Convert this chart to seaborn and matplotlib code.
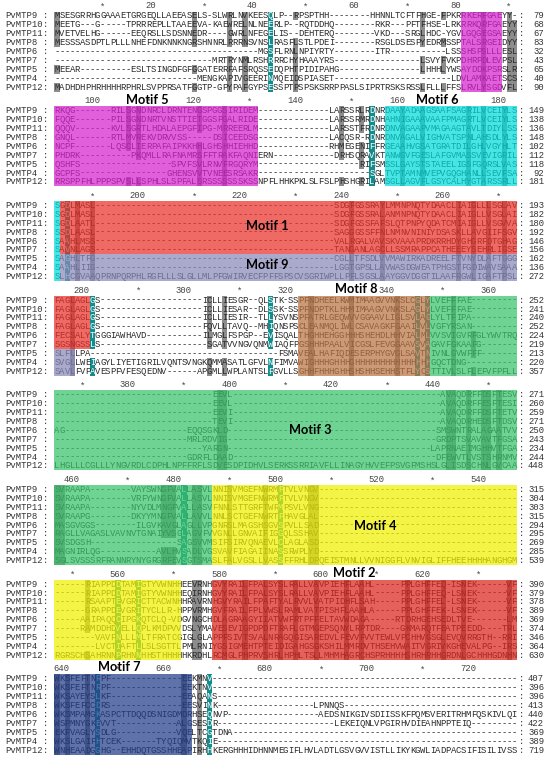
import numpy as np
import matplotlib
matplotlib.use("Agg")
import matplotlib.pyplot as plt
from matplotlib.colors import ListedColormap, to_rgb
from matplotlib.font_manager import FontProperties
import seaborn as sns

# ---- data ----
names = ["PvMTP9", "PvMTP10", "PvMTP11", "PvMTP8", "PvMTP6", "PvMTP7", "PvMTP5", "PvMTP4", "PvMTP12"]
block_start = [1, 92, 183, 274, 365, 456, 547, 638]

block1 = [
    "MSESGRRHGGAAAETGRGEQLLAEEASELS-SLWRLNVKEESQLP--RPSPTHH--------HHNNLTCFTFHGE-FPKRRKERFGAEYY",
    "MEETG---G-----TPRRREPLLTAAEEVA-KAEWRELNLNEERLP--RQTDDHQ--------RKR---PFTFHSE-LRKRRKQRFGAEYY",
    "MVETVELHG------EEQRSLLSDSNNEDR----GWRLNFEGELIS--DEHTERQ--------VKD---SRGLHDC-YGVLGQGEGSAEYY",
    "MESSSASDPTLPLLLNHEFDNKNNKNGRSHNNRLRRRNSVNSLRASFLSTLPDEI--------RSGLDSESPYEDRMSSPTALSRGEIDYY",
    "----------------------------------------MGSFLRNLNPIYRTY--------ITR-----------LSSSHSPSLLLESL",
    "-------------------------------MRTRYNMLRSHRRRCHYHAAAYRS-----------------LSVYFVKPDHRPDLEVPSL",
    "MEEAR----------ESLTSINGDFGFGGATERRFAFSRQSSEDQPHTPIDIPAHG----------------LHHHLYWSAYDDKPSRSLR",
    "----------------------------MENGKAPIVGEERINMQEIDSPIASET-----------------------LDVLAMKAETSCS",
    "MADHDHPHRHHHHRPHRLSVPPRSATFGGTP-GPYPAFGYPSESSPTPSPSKSRRPPASLSIPRTRSKSRSSLFLLLFFSLRVLYSGDVFL",
]
block2 = [
    "RKQG-------RILSGNDNRCLDRNTENGSPGGSIRIDEM--------------LARSSRLRDNRDAAYADAAGSAAFSAGRILVCEIYLS",
    "FQQE-------PILSGNDNRTVNSTTIETGGSPGALRIDE--------------LARSSRMRDNHAHNIGAAAVAAFPMAGRTLVCEIYLS",
    "QQQV-------KVLSGRTLHDALAEPGFIPG-MRREERLM--------------LARSSTFRDNRDNVAGAAPVMAGAAGTAVLTDIYLSS",
    "GNQL-------RTLMVREKVDRVVSS-----DSICEEDSG--------------LACQSR-RDNRDNVAGALVIGHVATSPNLAHSDLYLS",
    "NCPF-------LQSCLIERPAFAIPKKHHLGHSHHIEHHD--------------RHMEGENIFFRGEAAHVGSATGRATDILGHLVGYHLT",
    "PHDRK----------PKQMLLRAFNAMRSFFTRAKFAQNIERN------------DRHSQRAVKTANWGVFGESLAFGVMASSVEVIGRIL",
    "QSHFS------------------SPVFSVLRNVFRGQRYM--------------------RIFSMSSLGAYSTSTAEELIGSFGQRSLVAS",
    "GCPFS-----------------GHENSVVTVNEESRSAKR----------------------SGLTVPTAMNMVEPVGQGHANLLSEVFSA",
    "RRSPPFHLPPPSPVSLLSPHLSLSPFALSRSSSSSSSKSSNPFLHHKPKLSLFSLPHSHGRILAMSGLLAGVFLGSYCALHYGTARSSRLL",
]
block3 = [
    "SGDLMASL-----------------------------------------------SDGFGSSRAYLMMNPNQTYDAACLIAIGLLLSGLAV",
    "SGDLMASL-----------------------------------------------SDGFGSSRALANMNPNQTYDAACLIAIGLLVSGLAI",
    "SGDLAATL-----------------------------------------------SDGFGSSFAFSLQTPNPYQDATCMIAIGLLVSGVVA",
    "SSDLAASL-----------------------------------------------SAGGGSSFFNLNMNVNINIYDSASKLLAVGIIFSGV",
    "SAAHLMSS-----------------------------------------------VALRGALVAVSKVAAAPRDKRRHDYGHGRFDTGHAG",
    "SAVNLAGS-----------------------------------------------TANGANLAGCLLSSMRAPPCATHEEEYSEHRLIGSE",
    "SAGHLTFG-----------------------------------------------CGLLTFSDLVVMAWIRKADREELFTVNYDLAFTGGG",
    "SAAHLIIG-----------------------------------------------LGGTGPSLLAVWASDGWEATPHGSTFGDIWAVSAAA",
    "SLHCGVAAQPRNPQRPHLRGFLLLSLGLLMLPFGWIRVECFPFFSPSCVSGRIWPLLPFLSGSLAAYGGVDGGTILAAFRGWLIGAFTPSL",
]
block4 = [
    "FAGLAGLGS--------------------ICLLIESGR--QLSTK-SSPFNDHEELKWMIMAAGVVNKSLCGLYLVEFFFAE---------",
    "FAGLAGLGS--------------------ICLLIESAR--DLSSK-SSPFNDPTKLHHMIMAAGVVNKSLAGLYLVEFFFAE---------",
    "FAGLAGLGS--------------------ICLLIESIR--TLLYSVNSPFATRLGEQWVVGGAAVLIGLSVLAGLYLTFIPA---------",
    "FAGLAGLGS--------------------FQVLLTAVQ--MHIQNSPSCLEANMQLIWLCSAVAGKFGAAILVLVGFYRSAN---------",
    "FECSALYTGGGIAWHAVD-----------ILMGLFSPGP--EVISQALTHGHHEHGGHHHSHEHDLHHVIALMLVVSVIGVRFGLYWVTRQ",
    "SGSNGSSLS---------------------SGATVVNGVQNMWIAQFPGSHHHPAALVICGSLFEVGGAAVSVAGAVFGKAAFG-------",
    "SLFLLPA-------------------------------------FSMAVEALHAFIQDESERPHYGVGLSAVTNIVNLGVWFFF-------",
    "SVGLLWEIAGYLIYETIGRILVQNTSVNGKQMMASATLGFVLNFIMVAWIGHHHGHHHGHHHHHHHHHHHHHHHGQCTDNG---------",
    "SAVLFVPAVESPFVFESQEDNV------APGMLLWPLANTSLFGVLLSGHHFHHHGHHSHSHHSEHHSTFLYCSTTIVLSLFLEFVFPFLL",
]
block5 = [
    "-------------------------------EEVL-----------------------------------------AVAQDRFFDSFTESV",
    "-------------------------------EEVL-----------------------------------------AVAQDRFFESFTESI",
    "-------------------------------EEVI-----------------------------------------AVAQDRFFDSFTETV",
    "-------------------------------TEVI-----------------------------------------AVAQDRHEDSFTDSV",
    "AG------------------------EQQSGKLD-----------------------------------------SMSWNTRALAGAATVV",
    "--------------------------MRLRDVIG-----------------------------------------GRDPTSVAVAVTFGSA",
    "-----------------------------YARGN----------------------------------------LAPRNAEIMGHHVTFGA",
    "--------------------------GDRFLDAAD----------------------------------------DFEWVTLVSTSHRNMV",
    "LHGLLLCGLLLYNGVRDLCDPHLNPFFRFLSDVESDPIDHVLSERKSSRRIAVFLLINAGYHVVEFPSVGFMSHSLGLISDSCHNLGVCAALA",
]
block6 = [
    "SVRAAPA--------VAYSWNGFVALLASVLNNISVMGEFNWRMPTVLVNGV---------------------------------------",
    "SVRAAPA--------VRFYWNGFVALLASVLNNISVMGEFNWRMPTVLVNGV---------------------------------------",
    "SVRAAPA--------NYVDLMNGFVALLASVFNNLSTTGRFTWRMPSVLVNG---------------------------------------",
    "SVRAAPG--------DKYYMNGFVALLAVVLNNLSCTGEFNWRTPHAVGLAL---------------------------------------",
    "MASGVGGS--------ILGVKAVGLAGLLVPGNRSLMAGSHSGVSPVLLSAD---------------------------------------",
    "RAGLLVAGASLVAVNVTGNAIYVSGLAGVFVVGNLLGNVAIFIGGQLSSHAV---------------------------------------",
    "SVSDGSH-----------------SAGSVVMSIFSIRVQNAEVLCLAGLASD---------------------------------------",
    "MAGNIRLQG-----------AVLHVSADLVGSVAVFIAGAIINASSRWPLYD---------------------------------------",
    "SGLSVSSSRFRANNRYNYGRGRFEVSGTSMASLFALVGSLLVASSFFRHLDPQEISTMNLLVVNIGGFLVNVIGLIFFHEEHHHHANGHGM",
]
block7 = [
    "------RIAPPDDTAMIGTYVWNHHEEVRNHGVYRAILFPALSYSLRALLVAVPIEHFLAAHL-----PPLGHFFEQ-ISNEK------VF",
    "------RIAPPDDTAMIGTYVWNHHEQIRNHGVYRAILFPALSYSLRALLVAVPIEHFLAAHL-----PPLGHFFEQ-LSNEK------VF",
    "------RSAAPTEVGRICTTACWNHHRAVRNHGVYRAILFPAFTYALRVVLVATPIDHFLSAH-----PPLGHFFEL-LSNEK------VF",
    "------GRAPPDEVGRITYCLLR-HPPVRMHGVFRAILFPLVWSLRAMLVATPISHFLAAHLA-----PPLGHFFEK-LSNEK------VF",
    "-----AAIPAQQCIPGKQTCLQ-VDGVNGCHDLAGRAAGYIIATVWFRTPFFELTAVWDAGA-----RTDRHGEHSEDLTVE-------LM",
    "-----RAMDDHDVELLQPLKMDPVVDSLYMAVESEVIGPDPDFTRAFLGTMGEPSQNYLRPTDR----GKMARQTFEATPEEDD----TRL",
    "--------VAVFNLLLMLTFRATCGIGLGLAPPFSIVTSVALNRAGQGISAREDVLFEVVFVVTEWLVPCHHVGSGLEVQVRRGTH--RRI",
    "--------LVCTIAFTLLSLSGTTLPMLRNIYGSIGMEHTPTEIDIGAHGSGKSHILMMRDVTHSEHVWAITVGRIVKGHEVALPG--IRS",
    "RGRSCHSAHRNNPRHNNHHSTHHHHHKRDHLRCMGLPHPRVSHRLHPHLTSLLMHMHAGRCHSPRHHHHSHRHRHHGRDNLGCHHHGDNHN",
]
block8 = [
    "WKSFEFTNRPF--------------EEKMNV------------------------------------------------------------",
    "WKSFEFTNRPF--------------EEKTNV------------------------------------------------------------",
    "WKSAYEYSLKF--------------EEAQANS-----------------------------------------------------------",
    "WKSFEFCCDRS--------------EESVINK-------------------LPNNQS----------------------------------",
    "WKSMPAMGKASPCTTDQQDSNIGDMDRHSEQNVP------------------AEDSNIKGIVSDIISSKFPQMSVERITRHMFQSKIVLQI",
    "WSPMNYGKEVVT------------ALGSESDR-----------------------LEKEIQNLVPGIRHVDIEAHNPPTEIQ---------",
    "EKFVAGLYSDLG------------VQELTCGTDNA--------------------------------------------------------",
    "WKSLGAIFHTCEK-------TYQIQMVTKQIE-----------------------------------------------------------",
    "WNHEAADGGHG--EHHDQTGSSHHEAPIRHHKERGHHHIDHNNMEGIFLHVLADTLGSVGVVISTLLIKYKGWLIADPACSIFISILIVSS",
]
blocks = [block1, block2, block3, block4, block5, block6, block7, block8]

ends = [
    [79, 68, 67, 83, 32, 43, 65, 40, 90],
    [149, 138, 136, 148, 102, 112, 118, 92, 181],
    [193, 182, 180, 192, 146, 156, 162, 136, 272],
    [252, 241, 240, 252, 224, 219, 213, 220, 357],
    [271, 260, 259, 271, 250, 243, 234, 244, 448],
    [315, 304, 303, 315, 294, 295, 269, 285, 539],
    [390, 379, 378, 389, 369, 374, 346, 364, 630],
    [407, 396, 396, 413, 440, 422, 369, 389, 719],
]

motif_names = ["Motif 1", "Motif 2", "Motif 3", "Motif 4", "Motif 5",
               "Motif 6", "Motif 7", "Motif 8", "Motif 9"]
# (block, first row, last row, first column, last column, motif index)
motif_spans = [
    (0, 0, 8, 80, 87, 4),
    (1, 0, 8, 0, 39, 4), (1, 0, 8, 65, 90, 5),
    (2, 0, 8, 0, 0, 5), (2, 0, 5, 1, 90, 0), (2, 6, 8, 1, 90, 8),
    (3, 0, 5, 0, 6, 0), (3, 6, 8, 0, 3, 8), (3, 0, 8, 48, 73, 7), (3, 0, 8, 74, 90, 2),
    (4, 0, 8, 0, 90, 2),
    (5, 0, 8, 0, 30, 2), (5, 0, 8, 31, 90, 3),
    (6, 0, 8, 0, 24, 3), (6, 0, 8, 31, 90, 1),
    (7, 0, 8, 0, 26, 6),
]
# conserved columns (dark shading) and teal columns, per block
dark_cols = [
    [0, 27, 34, 37, 47, 72, 76, 84, 89, 90],
    [14, 16, 28, 33, 56, 60, 68, 72, 81, 84, 88],
    [4, 7, 58, 64, 79, 82, 85, 88],
    [3, 30, 33, 50, 58, 67, 78, 82],
    [32, 33, 77, 78, 81, 84, 85, 87],
    [0, 1, 21, 22, 23, 27, 28, 34, 41, 50, 51],
    [6, 27, 28, 33, 37, 41, 44, 47, 51, 57, 60, 69, 73, 76, 80, 89],
    [0, 2, 6, 25, 28],
]
teal_cols = [[42], [62], [2], [7, 42, 71, 73], [], [25, 44], [12, 16], [8, 30]]

# ---- style / layout ----
motif_colors = ["#f06a64", "#e6625c", "#6fd494", "#f5f53c", "#e260dc",
                "#48e6e6", "#5f73aa", "#cd9b78", "#aaaacd"]
label_pos = {  # motif index -> (block, x, y) in cell units
    4: (1, 18.2, -0.7), 5: (1, 75.3, -0.7),
    0: (2, 41.8, 2.8), 8: (2, 41.8, 7.2),
    7: (3, 59.4, -0.7), 2: (4, 50.4, 4.5),
    3: (5, 63.1, 4.6), 1: (6, 59.0, -0.8), 6: (7, 12.7, -0.8),
}

W, H = 550, 759
NCOL, NROW = 91, 9
CW, PITCH, LEFT = 5.08, 8.9, 54.46
ALPHA = 0.72
mono = FontProperties(family="Liberation Mono", size=6.4)
lab_font = FontProperties(family="Lato", weight="bold", size=9.2)

overlay = [np.clip((np.array(to_rgb(c)) - (1 - ALPHA)) / ALPHA, 0, 1) for c in motif_colors]
shade_cmap = ListedColormap(["white", "#8c8c8c", "#128c8c"])
motif_cmap = ListedColormap(overlay)

fig = plt.figure(figsize=(W / 100, H / 100), dpi=100)

for b, raw in enumerate(blocks):
    seqs = [s.ljust(NCOL, "-")[:NCOL] for s in raw]
    ruler_y = 6 + 94.7 * b
    top = ruler_y + 10 - PITCH / 2
    ax = fig.add_axes([LEFT / W, 1 - (top + NROW * PITCH) / H, NCOL * CW / W, NROW * PITCH / H])

    shade = np.zeros((NROW, NCOL))
    for c in dark_cols[b]:
        for r in range(NROW):
            if seqs[r][c] != "-":
                shade[r, c] = 1
    for c in teal_cols[b]:
        for r in range(NROW):
            if seqs[r][c] != "-":
                shade[r, c] = 2
    sns.heatmap(shade, ax=ax, cmap=shade_cmap, vmin=-0.5, vmax=2.5, cbar=False,
                xticklabels=False, yticklabels=False)

    motif = np.full((NROW, NCOL), np.nan)
    for bb, r0, r1, c0, c1, m in motif_spans:
        if bb == b:
            motif[r0:r1 + 1, c0:c1 + 1] = m
    sns.heatmap(motif, ax=ax, mask=np.isnan(motif), cmap=motif_cmap, vmin=-0.5, vmax=8.5,
                cbar=False, xticklabels=False, yticklabels=False, alpha=ALPHA, zorder=4)

    for r, s in enumerate(seqs):
        y = r + 0.5
        for c, ch in enumerate(s):
            col = "white" if shade[r, c] == 2 else "#2a2a2a"
            ax.text(c + 0.5, y, ch, ha="center", va="center", fontproperties=mono,
                    color=col, zorder=3)
        ax.text(-9.7, y, names[r], ha="left", va="center", fontproperties=mono, color="#333333")
        ax.text(-1.67, y, ":", ha="center", va="center", fontproperties=mono, color="#333333")
        ax.text(92.0, y, ":", ha="center", va="center", fontproperties=mono, color="#333333")
        ax.text(96.4, y, str(ends[b][r]), ha="right", va="center", fontproperties=mono,
                color="#333333")

    ruler_row = (ruler_y - top) / PITCH
    for c in range(NCOL):
        pos = block_start[b] + c
        if pos % 20 == 0:
            ax.text(c + 1, ruler_row, str(pos), ha="right", va="center",
                    fontproperties=mono, color="#444444")
        elif pos % 10 == 0:
            ax.text(c + 0.5, ruler_row + 0.15, "*", ha="center", va="center",
                    fontproperties=mono, color="#444444")

    for m, (bb, x, y) in label_pos.items():
        if bb == b:
            ax.text(x, y, motif_names[m], ha="center", va="center",
                    fontproperties=lab_font, color="black", zorder=6)

fig.savefig("out.png", dpi=100)
